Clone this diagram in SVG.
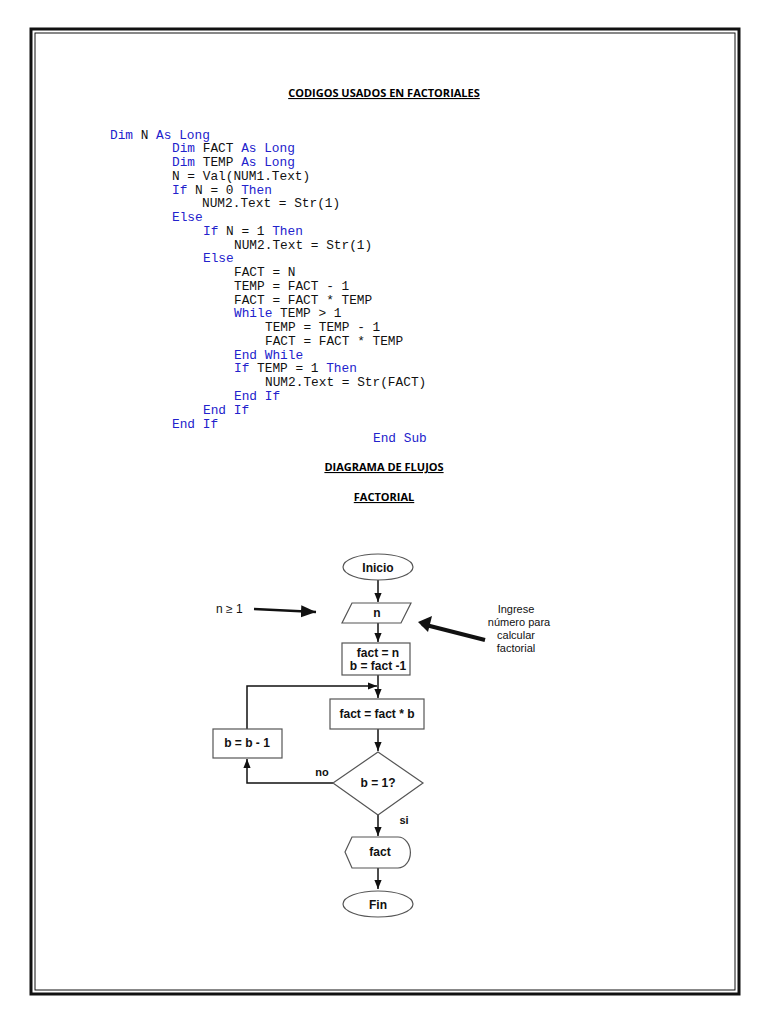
<svg xmlns="http://www.w3.org/2000/svg" width="768" height="1024" viewBox="0 0 768 1024">
<style>
.c{font-family:"Liberation Mono",monospace;font-size:12.8px;fill:#111}
.k{fill:#2222cc}
.h{font-family:"Open Sans","Liberation Sans",sans-serif;font-size:11px;font-weight:bold;text-decoration:underline;text-anchor:middle}
.n{fill:#fff;stroke:#555;stroke-width:1.2}
.t{font-family:"Liberation Sans",Arial,sans-serif;font-size:12px;font-weight:bold;text-anchor:middle;fill:#111}
.e{stroke:#111;stroke-width:1.5;fill:none}
</style>
<defs><marker id="a" viewBox="0 0 10 10" refX="10" refY="5" markerWidth="6" markerHeight="6" orient="auto"><path d="M0,1 L10,5 L0,9z" fill="#111"/></marker></defs>
<rect x="0" y="0" width="768" height="1024" fill="#fff"/>
<rect x="31" y="29" width="708" height="965" fill="none" stroke="#111" stroke-width="3"/>
<rect x="35" y="33" width="700" height="957" fill="none" stroke="#111" stroke-width="1"/>
<text class="h" x="384" y="97">CODIGOS USADOS EN FACTORIALES</text>
<g class="c">
<text x="110" y="139"><tspan class="k">Dim</tspan> N <tspan class="k">As Long</tspan></text>
<text x="172" y="152"><tspan class="k">Dim</tspan> FACT <tspan class="k">As Long</tspan></text>
<text x="172" y="166"><tspan class="k">Dim</tspan> TEMP <tspan class="k">As Long</tspan></text>
<text x="172" y="180">N = Val(NUM1.Text)</text>
<text x="172" y="194"><tspan class="k">If</tspan> N = 0 <tspan class="k">Then</tspan></text>
<text x="202" y="207">NUM2.Text = Str(1)</text>
<text x="172" y="221" class="k">Else</text>
<text x="203" y="235"><tspan class="k">If</tspan> N = 1 <tspan class="k">Then</tspan></text>
<text x="234" y="249">NUM2.Text = Str(1)</text>
<text x="203" y="262" class="k">Else</text>
<text x="234" y="276">FACT = N</text>
<text x="234" y="290">TEMP = FACT - 1</text>
<text x="234" y="304">FACT = FACT * TEMP</text>
<text x="234" y="317"><tspan class="k">While</tspan> TEMP &gt; 1</text>
<text x="265" y="331">TEMP = TEMP - 1</text>
<text x="265" y="345">FACT = FACT * TEMP</text>
<text x="234" y="359" class="k">End While</text>
<text x="234" y="372"><tspan class="k">If</tspan> TEMP = 1 <tspan class="k">Then</tspan></text>
<text x="265" y="386">NUM2.Text = Str(FACT)</text>
<text x="234" y="400" class="k">End If</text>
<text x="203" y="414" class="k">End If</text>
<text x="172" y="428" class="k">End If</text>
<text x="373" y="442" class="k">End Sub</text>
</g>
<text class="h" x="384" y="471">DIAGRAMA DE FLUJOS</text>
<text class="h" x="384" y="501">FACTORIAL</text>
<g id="edges">
<path class="e" d="M378,580 V602" marker-end="url(#a)"/>
<path class="e" d="M378,623 V642" marker-end="url(#a)"/>
<path class="e" d="M378,675 V698" marker-end="url(#a)"/>
<path class="e" d="M378,729 V751" marker-end="url(#a)"/>
<path class="e" d="M333,783 H247 V759" marker-end="url(#a)"/>
<path class="e" d="M247,729 V686 H377" marker-end="url(#a)"/>
<path class="e" d="M378,815 V836" marker-end="url(#a)"/>
<path class="e" d="M378,868 V889" marker-end="url(#a)"/>
<path d="M254,609 L316,612" stroke="#111" stroke-width="2.5" fill="none" marker-end="url(#a)"/>
<path d="M485,640 L422,624" stroke="#111" stroke-width="4" fill="none"/>
<path d="M418,622 L432,616 L428,632z" fill="#111"/>
</g>
<g id="inicio"><ellipse class="n" cx="378" cy="567" rx="35" ry="13"/><text class="t" x="378" y="572" font-size="13">Inicio</text></g>
<g id="n"><path class="n" d="M352,603 H411 L401,623 H342z"/><text class="t" x="377" y="617">n</text></g>
<g id="init"><rect class="n" x="342" y="643" width="68" height="32"/><text class="t" x="378" y="657">fact = n</text><text class="t" x="378" y="670">b = fact -1</text></g>
<g id="mul"><rect class="n" x="330" y="699" width="94" height="30"/><text class="t" x="377" y="718">fact = fact * b</text></g>
<g id="dec"><rect class="n" x="213" y="729" width="69" height="29"/><text class="t" x="247" y="747">b = b - 1</text></g>
<g id="cond"><path class="n" d="M378,752 L423,783 L378,815 L333,783z"/><text class="t" x="378" y="787">b = 1?</text></g>
<g id="out"><path class="n" d="M352,837 H398 A12,15 0 0 1 398,868 H352 L345,852z"/><text class="t" x="380" y="856">fact</text></g>
<g id="fin"><ellipse class="n" cx="378" cy="904" rx="35" ry="13"/><text class="t" x="378" y="909" font-size="13">Fin</text></g>
<g font-family="Liberation Sans,Arial,sans-serif" font-size="11" fill="#111">
<text x="216" y="613" font-size="12">n ≥ 1</text>
<text x="322" y="776" font-weight="bold" text-anchor="middle">no</text>
<text x="404" y="824" font-weight="bold" text-anchor="middle">si</text>
<text text-anchor="middle"><tspan x="516" y="613">Ingrese</tspan><tspan x="519" y="626">número para</tspan><tspan x="516" y="639">calcular</tspan><tspan x="516" y="652">factorial</tspan></text>
</g>
</svg>
